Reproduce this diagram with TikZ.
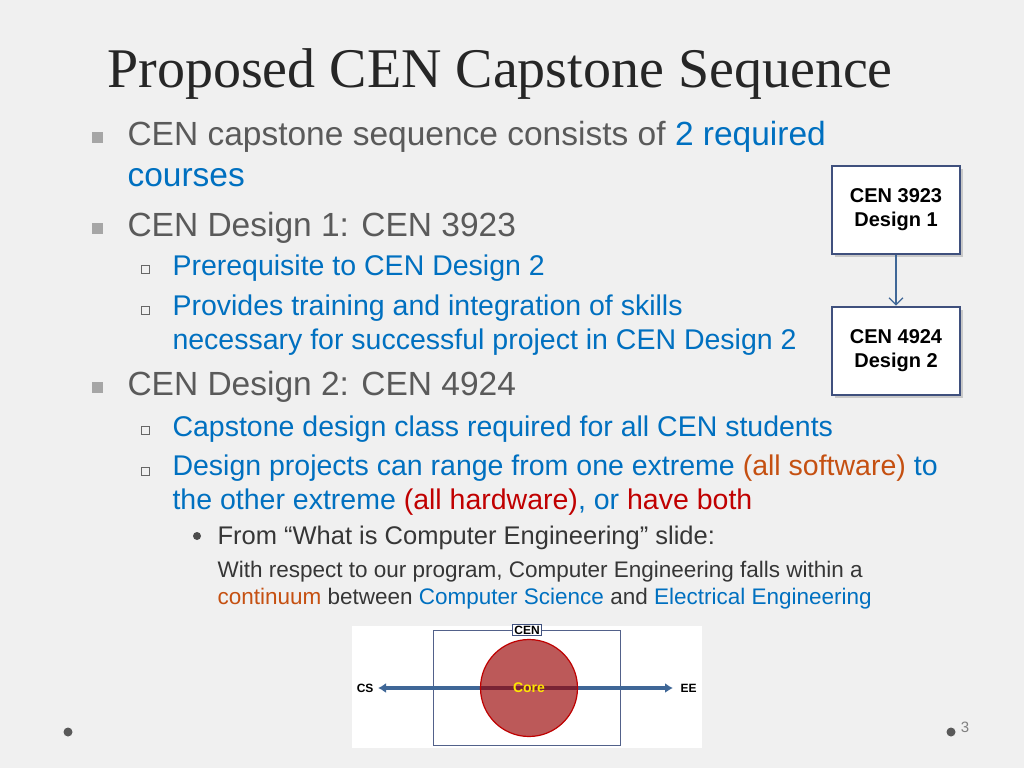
\documentclass[tikz,border=0pt]{standalone}
\usepackage{fontspec}
\setmainfont{Liberation Sans}
\newfontfamily\titlefont{Liberation Serif}
\usepackage{tikz}
\usetikzlibrary{positioning, shadows, arrows.meta}
\definecolor{slideblue}{RGB}{0,112,192}
\definecolor{slideorange}{RGB}{197,80,17}
\definecolor{slidered}{RGB}{192,0,0}
\definecolor{boxedge}{RGB}{63,80,125}
\definecolor{arrowblue}{RGB}{79,129,189}
\definecolor{coregray}{RGB}{90,90,90}

\tikzset{
  lvlone/.style={anchor=west, align=left, text=coregray, font=\fontsize{33.5}{41}\selectfont},
  lvltwo/.style={anchor=west, align=left, text=slideblue, font=\fontsize{28.5}{34}\selectfont},
  lvlthree/.style={anchor=west, align=left, text=coregray!60!black, font=\fontsize{25.5}{30}\selectfont},
  coursebox/.style={draw=boxedge, line width=2.6pt, fill=white, minimum width=128pt, minimum height=88pt,
    align=center, font=\bfseries\fontsize{20}{24}\selectfont, drop shadow={opacity=0.35}}
}

\begin{document}
\begin{tikzpicture}[x=1pt, y=-1pt]
			\fill[gray!12] (0,0) rectangle (1024,768);
			\useasboundingbox (0,0) rectangle (1024,768);
			%% title
			\node[font=\titlefont\fontsize{56}{60}\selectfont, text=black!85] (title) at (500,74) {Proposed CEN Capstone Sequence};
			%% bullets
			\node[lvlone] (b1) at (124,137) {CEN capstone sequence consists of \textcolor{slideblue}{2 required}};
			\node[lvlone] (b1b) at (124,178) {\textcolor{slideblue}{courses}};
			\node[lvlone] (b2) at (124,228) {CEN Design 1: CEN 3923};
			\node[lvltwo] (b21) at (169,268) {Prerequisite to CEN Design 2};
			\node[lvltwo] (b22) at (169,325) {Provides training and integration of skills\\necessary for successful project in CEN Design 2};
			\node[lvlone] (b3) at (124,387) {CEN Design 2: CEN 4924};
			\node[lvltwo] (b31) at (169,429) {Capstone design class required for all CEN students};
			\node[lvltwo] (b32) at (169,485) {Design projects can range from one extreme \textcolor{slideorange}{(all software)} to\\the other extreme \textcolor{slidered}{(all hardware)}, or \textcolor{slidered}{have both}};
			\node[lvlthree] (b321) at (214,538) {From \textquotedblleft What is Computer Engineering\textquotedblright\ slide:};
			\node[lvlthree, font=\fontsize{22.5}{27}\selectfont] (b322) at (214,585) {With respect to our program, Computer Engineering falls within a\\\textcolor{slideorange}{continuum} between \textcolor{slideblue}{Computer Science} and \textcolor{slideblue}{Electrical Engineering}};
			\foreach \y in {137,228,387}
				\fill[gray!70] (92,\y-5) rectangle (103,\y+6);
			\foreach \y in {268,309,429,470}
				\draw[gray!80!black, line width=0.8pt] (141,\y-3) rectangle (149,\y+5);
			\fill[black!70] (197,536) circle (4);
			%% course boxes
			\node[coursebox] (d1) at (896,210) {CEN 3923\\Design 1};
			\node[coursebox] (d2) at (896,351) {CEN 4924\\Design 2};
			\draw[-{Straight Barb[length=7pt]}, arrowblue!80!black, line width=1.3pt] (d1) -- (d2);
			%% continuum picture
			\fill[white] (352,626) rectangle (702,748);
			\draw[boxedge!90, line width=1pt] (433,630) rectangle (620,745);
			\node[draw=boxedge, line width=1pt, fill=white, inner sep=1.5pt, font=\bfseries\fontsize{12}{14}\selectfont] (cen) at (527,630) {CEN};
			\coordinate (left) at (378,688);
			\coordinate (right) at (673,688);
			\draw[{Latex[length=8pt,width=10pt]}-{Latex[length=8pt,width=10pt]}, arrowblue!80!black, line width=4pt] (left) -- (right);
			\node[circle, draw=red!75!black, line width=1.2pt, fill=red!60!black, fill opacity=0.65, minimum size=97pt, inner sep=0pt] (core) at (529,688) {};
			\node[text=yellow!90!orange, font=\bfseries\fontsize{14}{16}\selectfont] (corelbl) at (core) {Core};
			\node[font=\bfseries\fontsize{12}{14}\selectfont, left=1pt of left] (cs) {CS};
			\node[font=\bfseries\fontsize{12}{14}\selectfont, right=4pt of right] (ee) {EE};
			%% footer
			\fill[gray!70!black] (68,732) circle (4.5);
			\fill[gray!70!black] (951,732) circle (4.5);
			\node[text=gray, font=\fontsize{15}{17}\selectfont] (page) at (965,727) {3};
\end{tikzpicture}
\end{document}
